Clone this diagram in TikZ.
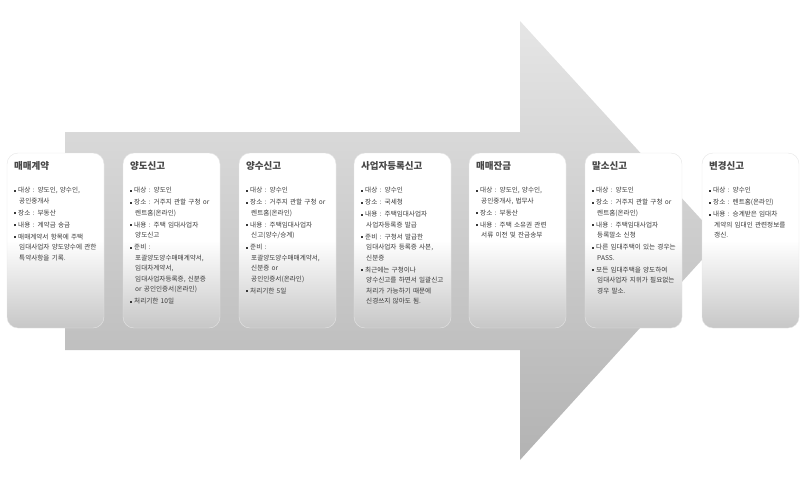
\documentclass[tikz,border=0pt]{standalone}
\usepackage{fontspec}
\setmainfont{Noto Sans CJK KR}
\newcommand{\itm}[1]{\par\hangindent=5pt\hangafter=1\noindent\raisebox{1.2pt}{\rule{1.6pt}{1.6pt}}\hspace{2.4pt}#1\par\vspace{1.5pt}}
\tikzset{
  card/.style={rounded corners=11pt, top color=white, bottom color=black!22, middle color=white, draw=black!10, line width=0.4pt},
  ttl/.style={anchor=north west, inner sep=0pt, font=\fontsize{9.5}{11}\selectfont\bfseries, text=black!72},
  body/.style={anchor=north west, inner sep=0pt, text width=84pt, align=left, font=\fontsize{6.6}{10.5}\selectfont, text=black!78}
}
\begin{document}
\begin{tikzpicture}[x=1pt,y=-1pt]
\useasboundingbox (0,0) rectangle (800,477);
\shade[top color=black!10, bottom color=black!30] (65,132) -- (520,132) -- (520,21) -- (720,240) -- (520,460) -- (520,350) -- (65,350) -- cycle;
\foreach \i/\x in {1/7,2/123,3/239,4/354,5/469,6/585,7/702}{
  \shade[card] (\x,153) rectangle ++(97,175);
  \coordinate (c\i) at (\x+7,161);
}
\node[ttl] (t1) at (c1) {매매계약};
\node[ttl] (t2) at (c2) {양도신고};
\node[ttl] (t3) at (c3) {양수신고};
\node[ttl] (t4) at (c4) {사업자등록신고};
\node[ttl] (t5) at (c5) {매매잔금};
\node[ttl] (t6) at (c6) {말소신고};
\node[ttl] (t7) at (c7) {변경신고};
\begin{scope}[every node/.append style={body}]
\node (b1) at ([yshift=-21pt]c1) {\itm{대상 : 양도인, 양수인, 공인중개사}\itm{장소 : 부동산}\itm{내용 : 계약금 송금}\itm{매매계약서 항목에 주택 임대사업자 양도양수에 관한 특약사항을 기록.}};
\node (b2) at ([yshift=-21pt]c2) {\itm{대상 : 양도인}\itm{장소 : 거주지 관할 구청 or 렌트홈(온라인)}\itm{내용 : 주택 임대사업자 양도신고}\itm{준비 : 포괄양도양수매매계약서, 임대차계약서, 임대사업자등록증, 신분증 or 공인인증서(온라인)}\itm{처리기한 10일}};
\node (b3) at ([yshift=-21pt]c3) {\itm{대상 : 양수인}\itm{장소 : 거주지 관할 구청 or 렌트홈(온라인)}\itm{내용 : 주택임대사업자 신고(양수/승계)}\itm{준비 : 포괄양도양수매매계약서, 신분증 or 공인인증서(온라인)}\itm{처리기한 5일}};
\node (b4) at ([yshift=-21pt]c4) {\itm{대상 : 양수인}\itm{장소 : 국세청}\itm{내용 : 주택임대사업자 사업자등록증 발급}\itm{준비 : 구청서 발급한 임대사업자 등록증 사본, 신분증}\itm{최근에는 구청이나 양수신고를 하면서 일괄신고 처리가 가능하기 때문에 신경쓰지 않아도 됨.}};
\node (b5) at ([yshift=-21pt]c5) {\itm{대상 : 양도인, 양수인, 공인중개사, 법무사}\itm{장소 : 부동산}\itm{내용 : 주택 소유권 관련 서류 이전 및 잔금송부}};
\node (b6) at ([yshift=-21pt]c6) {\itm{대상 : 양도인}\itm{장소 : 거주지 관할 구청 or 렌트홈(온라인)}\itm{내용 : 주택임대사업자 등록말소 신청}\itm{다른 임대주택이 있는 경우는 PASS.}\itm{모든 임대주택을 양도하여 임대사업자 지위가 필요없는 경우 말소.}};
\node (b7) at ([yshift=-21pt]c7) {\itm{대상 : 양수인}\itm{장소 : 렌트홈(온라인)}\itm{내용 : 승계받은 임대차 계약의 임대인 관련정보를 갱신.}};
\end{scope}
\end{tikzpicture}
\end{document}
